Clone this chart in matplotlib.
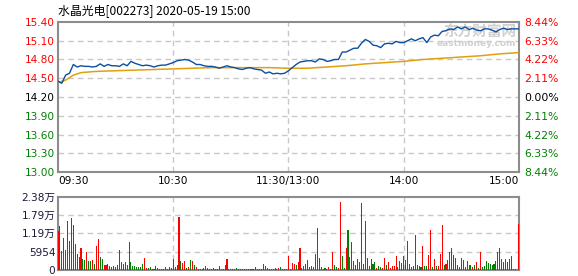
import numpy as np
import matplotlib
matplotlib.use("Agg")
import matplotlib.pyplot as plt

plt.rcParams['font.family'] = ['DejaVu Sans', 'Noto Sans CJK SC']

title = "水晶光电[002273] 2020-05-19 15:00"
prev_close = 14.20

# price every 2 minutes (0..240 trading minutes)
price = [14.45, 14.42, 14.55, 14.58, 14.72, 14.68, 14.70, 14.69, 14.69, 14.68,
         14.69, 14.73, 14.69, 14.72, 14.70, 14.70, 14.69, 14.73, 14.70, 14.77,
         14.74, 14.72, 14.70, 14.71, 14.70, 14.68, 14.70, 14.71, 14.71, 14.73,
         14.75, 14.78, 14.79, 14.80, 14.79, 14.76, 14.72, 14.72, 14.70, 14.69,
         14.69, 14.68, 14.66, 14.68, 14.70, 14.68, 14.67, 14.65, 14.64, 14.66,
         14.67, 14.65, 14.64, 14.63, 14.58, 14.60, 14.57, 14.58, 14.57, 14.58,
         14.62, 14.67, 14.72, 14.76, 14.77, 14.78, 14.78, 14.76, 14.81, 14.80,
         14.77, 14.78, 14.80, 14.80, 14.92, 14.92, 14.95, 14.98, 14.98, 15.06,
         15.12, 15.09, 15.03, 15.02, 14.99, 15.05, 15.06, 15.05, 15.09, 15.07,
         15.07, 15.10, 15.13, 15.10, 15.13, 15.15, 15.07, 15.16, 15.19, 15.18,
         15.25, 15.26, 15.29, 15.28, 15.32, 15.29, 15.32, 15.28, 15.30, 15.27,
         15.26, 15.29, 15.29, 15.27, 15.24, 15.28, 15.30, 15.28, 15.29, 15.29,
         15.29]
price_min = np.arange(0, 241, 2)

# average price line
avg_min = [0, 4, 8, 12, 20, 30, 40, 50, 60, 70, 80, 90, 100, 110, 120,
           130, 140, 150, 160, 170, 180, 190, 200, 210, 220, 230, 240]
avg_px = [14.43, 14.47, 14.55, 14.59, 14.61, 14.62, 14.63, 14.64, 14.65, 14.66,
          14.67, 14.67, 14.67, 14.67, 14.66, 14.66, 14.68, 14.70, 14.73, 14.75,
          14.77, 14.80, 14.82, 14.84, 14.86, 14.89, 14.91]

# volume per minute, r = up, g = down
volume = [12528, 14148, 6048, 10368, 6480, 15876, 9396, 16848, 14580, 8424,
          5184, 4212, 7128, 3564, 3240, 5832, 2916, 2916, 3240, 1944,
          7776, 10044, 4212, 3564, 1620, 1620, 1944, 1296, 972, 1296,
          972, 1620, 6480, 2592, 1944, 2592, 1620, 9072, 2592, 1296,
          1296, 972, 972, 972, 1944, 3888, 648, 648, 972, 324,
          324, 1296, 648, 324, 324, 324, 972, 324, 972, 648,
          3564, 972, 1620, 17280, 2916, 2268, 2916, 648, 972, 3240,
          2916, 1620, 972, 324, 324, 324, 648, 1296, 648, 324,
          324, 648, 324, 324, 1296, 324, 324, 1620, 3564, 324,
          324, 324, 324, 648, 324, 324, 324, 324, 324, 324,
          324, 324, 324, 972, 324, 324, 324, 1944, 1296, 648,
          324, 324, 324, 648, 324, 648, 972, 324, 324, 324,
          4536, 324, 2268, 1944, 1620, 2592, 7128, 648, 1296, 1944,
          3240, 972, 1296, 972, 5184, 13608, 3888, 972, 324, 648,
          324, 972, 324, 5832, 1620, 972, 648, 22032, 4536, 648,
          7128, 12960, 4212, 9072, 2916, 1620, 3564, 2592, 21708, 1944,
          15876, 3888, 1296, 3564, 1944, 2592, 648, 1296, 972, 648,
          3888, 1620, 2592, 648, 1296, 1296, 4536, 972, 2916, 2268,
          4536, 3240, 9396, 1944, 972, 1296, 11340, 1620, 1296, 972,
          7776, 1296, 1296, 4860, 12960, 972, 3564, 1296, 1296, 5184,
          14580, 1620, 1944, 3240, 5832, 7128, 4860, 3888, 1620, 972,
          3888, 3240, 972, 2916, 1620, 1620, 972, 1620, 2592, 648,
          5832, 972, 1296, 2916, 2268, 1944, 1620, 1944, 2916, 5832,
          7128, 3564, 2592, 3564, 2592, 3564, 4536, 324, 324, 0,
          14904]
updown = ("rgrrgrgrgr" "ggrggrggrg" "rrggrrggrg" "ggrrggrrgg" "gggggrrggr" "rrgrgrrgrg"
          "rgrrgrrgrg" "rgrrrrggrg" "rggrgrgrrg" "ggggrggrrr" "rggrrrggrr" "gggrrrgrgg"
          "rgrrgrrggg" "grrgrrrgrg" "grrrggrrgg" "rgrrgrgrrg" "rgggggrggr" "rgrrrrrgrg"
          "rrrgrgrggg" "rggrrgrgrr" "rgrgrgrggr" "rgggggrgrg" "rggggggggr" "rggrrrgrrg"
          "r")

vol_ticks = [0, 5954, 11908, 17862, 23816]
vol_labels = ["0", "5954", "1.19万", "1.79万", "2.38万"]

price_ticks = [15.40, 15.10, 14.80, 14.50, 14.20, 13.90, 13.60, 13.30, 13.00]
pct_labels = ["8.44%", "6.33%", "4.22%", "2.11%", "0.00%", "2.11%", "4.22%", "6.33%", "8.44%"]
time_labels = ["09:30", "10:30", "11:30/13:00", "14:00", "15:00"]

RED = "#ff0000"
GREEN = "#008000"
GRID = "#c8c8c8"
BORDER = "#8c8c8c"

fig = plt.figure(figsize=(5.78, 2.76), dpi=100)
ax = fig.add_axes([0.1003, 0.3768, 0.7976, 0.5435])
axv = fig.add_axes([0.1003, 0.0217, 0.7976, 0.2663])


def style(a):
    for s in a.spines.values():
        s.set_color(BORDER)
        s.set_linewidth(1.5)
    a.tick_params(length=0)
    a.set_xlim(0, 240)
    for m in [60, 120, 180]:
        a.axvline(m, color=GRID, lw=1, ls=(0, (4, 3)), zorder=0)


def pct_color(v):
    if v > prev_close + 1e-6:
        return RED
    if v < prev_close - 1e-6:
        return GREEN
    return "#000000"


style(ax)
ax.set_ylim(13.0, 15.4)
for v in price_ticks[1:-1]:
    ax.axhline(v, color=GRID, lw=1, ls=(0, (4, 3)), zorder=0)

ax.plot(avg_min, avg_px, color="#e0a010", lw=1.1, zorder=3)
ax.plot(price_min, price, color="#0b4fa0", lw=1.0, zorder=4)

# watermark
ax.text(0.993, 0.985, "东方财富网", transform=ax.transAxes, ha="right", va="top",
        fontsize=10.5, fontweight="bold", color="#d0d0d0", zorder=1,
        family=['Noto Sans CJK SC'])
ax.text(0.993, 0.885, "eastmoney.com", transform=ax.transAxes, ha="right", va="top",
        fontsize=6.5, fontweight="bold", color="#d0d0d0", zorder=1)

ax.set_yticks(price_ticks)
ax.set_yticklabels(["%.2f" % v for v in price_ticks], fontsize=7.6)
for lab, v in zip(ax.get_yticklabels(), price_ticks):
    lab.set_color(pct_color(v))
ax.tick_params(axis="y", pad=2)

axr = ax.twinx()
axr.set_ylim(13.0, 15.4)
axr.set_yticks(price_ticks)
axr.set_yticklabels(pct_labels, fontsize=7.8)
for lab, v in zip(axr.get_yticklabels(), price_ticks):
    lab.set_color(pct_color(v))
axr.tick_params(length=0, pad=4)
for s in axr.spines.values():
    s.set_visible(False)

ax.set_xticks([0, 60, 120, 180, 240])
ax.set_xticklabels(time_labels, fontsize=7.6)
ax.tick_params(axis="x", pad=3)
xl = ax.get_xticklabels()
xl[0].set_ha("left")
xl[-1].set_ha("right")

ax.text(0.0, 1.03, title, transform=ax.transAxes, ha="left", va="bottom",
        fontsize=8.6, family=['Noto Sans CJK SC', 'DejaVu Sans'])

# volume panel
style(axv)
axv.set_ylim(0, vol_ticks[-1])
for v in vol_ticks[1:-1]:
    axv.axhline(v, color=GRID, lw=1, ls=(0, (4, 3)), zorder=0)
mins = np.arange(len(volume))
cols = [RED if c == "r" else GREEN for c in updown]
axv.bar(mins, volume, width=0.55, color=cols, linewidth=0, antialiased=False, zorder=3)
axv.set_yticks(vol_ticks)
axv.set_yticklabels(vol_labels, fontsize=7.6, color="#1a1a3a")
axv.tick_params(axis="y", pad=2)
axv.set_xticks([])

fig.savefig("out.png", dpi=100)
